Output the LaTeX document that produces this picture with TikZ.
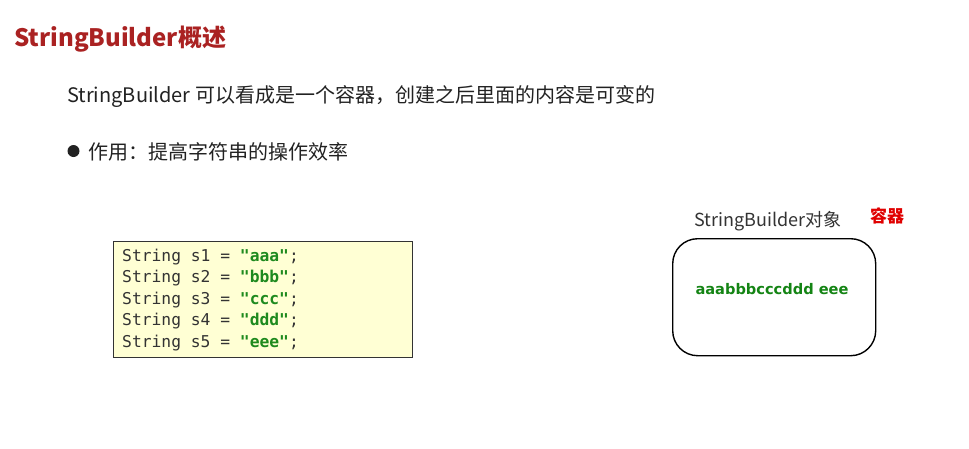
\documentclass[tikz,border=0pt]{standalone}
\usepackage{fontspec}
\setmainfont{Noto Sans CJK SC}
\newfontfamily\codefont{DejaVu Sans Mono}
\newfontfamily\innerfont{DejaVu Sans}
\definecolor{titlered}{HTML}{AA2222}
\definecolor{bodytext}{HTML}{222222}
\definecolor{labelgray}{HTML}{333333}
\definecolor{codebg}{HTML}{FFFFD4}
\definecolor{codeborder}{HTML}{333333}
\definecolor{codegreen}{HTML}{1E8A1E}
\definecolor{innergreen}{HTML}{148414}
\definecolor{hotred}{HTML}{E00000}
\begin{document}
\begin{tikzpicture}[x=1pt,y=-1pt,
  txt/.style={anchor=base west, inner sep=0pt},
  codeline/.style={anchor=base west, inner sep=0pt, text=labelgray, font=\codefont\fontsize{16.3}{20}\selectfont},
  strlit/.style={text=codegreen}]
\useasboundingbox[fill=white] (0,0) rectangle (969,448);
\node[txt, text=titlered, font=\fontsize{24}{28}\selectfont\bfseries] (title) at (14,46) {StringBuilder概述};
\node[txt, text=bodytext, font=\fontsize{20}{24}\selectfont] (line1) at (67,102.5) {StringBuilder 可以看成是一个容器，创建之后里面的内容是可变的};
\node[circle, fill=bodytext, minimum size=12pt, inner sep=0pt] (bullet) at (73.5,151) {};
\node[txt, text=bodytext, font=\fontsize{20}{24}\selectfont] (line2) at (88,159.5) {作用：提高字符串的操作效率};
\node[draw=codeborder, fill=codebg, line width=1.2pt, minimum width=299pt, minimum height=116pt, anchor=north west, inner sep=0pt] (codebox) at (112.5,241) {};
\foreach \i/\s in {1/aaa,2/bbb,3/ccc,4/ddd,5/eee}
  \node[codeline] (c\i) at (122,{261+21.5*(\i-1)}) {String s\i{} = \textcolor{codegreen}{\bfseries "\s"};};
\node[txt, text=labelgray, font=\fontsize{18}{22}\selectfont] (sblabel) at (694,226) {StringBuilder对象};
\node[txt, text=hotred, font=\fontsize{17}{20}\selectfont\bfseries] (container) at (870,222) {容器};
\node[draw=black, rounded corners=25pt, line width=1.4pt, minimum width=203pt, minimum height=117pt, anchor=north west, inner sep=0pt] (sbbox) at (672,238) {};
\node[anchor=base, inner sep=0pt, text=innergreen, font=\innerfont\bfseries\fontsize{14.6}{18}\selectfont] (content) at (772,294) {aaabbbcccddd eee};
\end{tikzpicture}
\end{document}
